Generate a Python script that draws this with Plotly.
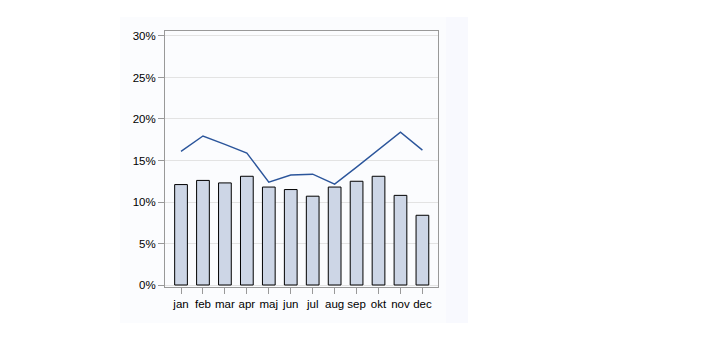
import plotly.graph_objects as go

months = ["jan", "feb", "mar", "apr", "maj", "jun", "jul", "aug", "sep", "okt", "nov", "dec"]
bar_values = [12.1, 12.6, 12.3, 13.1, 11.8, 11.5, 10.7, 11.8, 12.5, 13.1, 10.8, 8.4]
line_values = [16.1, 17.95, 16.95, 15.9, 12.4, 13.25, 13.35, 12.15, 14.2, 16.3, 18.4, 16.25]
y_ticks = [0, 5, 10, 15, 20, 25, 30]

fig = go.Figure()
fig.add_trace(go.Bar(
    x=months, y=bar_values, width=0.58,
    marker=dict(color="#cdd6e6", line=dict(color="#000000", width=1)),
    showlegend=False, hoverinfo="skip",
))
fig.add_trace(go.Scatter(
    x=months, y=line_values, mode="lines",
    line=dict(color="#2b559b", width=1.4),
    showlegend=False, hoverinfo="skip",
))

fig.update_layout(
    width=713, height=343,
    margin=dict(l=165, r=275, t=31, b=56, pad=0),
    paper_bgcolor="#ffffff", plot_bgcolor="#ffffff",
    font=dict(family="Liberation Sans, Arial, sans-serif", size=11.5, color="#000000"),
    shapes=[
        dict(type="rect", xref="paper", yref="paper", layer="below",
             x0=-45 / 273, x1=(468 - 165) / 273, y0=-(323 - 287) / 256, y1=(287 - 17) / 256,
             fillcolor="#fbfcfe", line=dict(width=0)),
        dict(type="rect", xref="paper", yref="paper", layer="below",
             x0=(446 - 165) / 273, x1=(468 - 165) / 273, y0=-(323 - 287) / 256, y1=(287 - 17) / 256,
             fillcolor="#f8f9fe", line=dict(width=0)),
    ],
)
fig.update_xaxes(
    type="category", range=[-0.73, 11.71],
    showline=True, mirror=True, linecolor="#999999", linewidth=1,
    ticks="outside", ticklen=6, tickcolor="#999999", tickwidth=1,
    showgrid=False, tickfont=dict(size=11.5),
)
fig.update_yaxes(
    range=[-0.24, 30.6], tickvals=y_ticks, ticktext=[f"{v}%" for v in y_ticks],
    showline=True, mirror=True, linecolor="#999999", linewidth=1,
    ticks="outside", ticklen=6, tickcolor="#999999", tickwidth=1,
    showgrid=True, gridcolor="#e3e3e3", gridwidth=1, zeroline=False,
    tickfont=dict(size=11.5),
)
fig.write_html("out.html")
